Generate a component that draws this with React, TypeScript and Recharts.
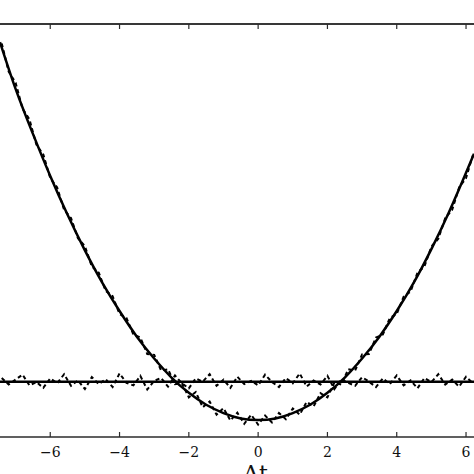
import { LineChart, Line, XAxis, YAxis, ReferenceLine } from 'recharts';

// time offset samples (x) for the measured curves
const X_MEASURED = [
  -7.4, -7.2, -7.0, -6.8, -6.6, -6.4, -6.2, -6.0, -5.8, -5.6,
  -5.4, -5.2, -5.0, -4.8, -4.6, -4.4, -4.2, -4.0, -3.8, -3.6,
  -3.4, -3.2, -3.0, -2.8, -2.6, -2.4, -2.2, -2.0, -1.8, -1.6,
  -1.4, -1.2, -1.0, -0.8, -0.6, -0.4, -0.2, 0.0, 0.2, 0.4,
  0.6, 0.8, 1.0, 1.2, 1.4, 1.6, 1.8, 2.0, 2.2, 2.4,
  2.6, 2.8, 3.0, 3.2, 3.4, 3.6, 3.8, 4.0, 4.2, 4.4,
  4.6, 4.8, 5.0, 5.2, 5.4, 5.6, 5.8, 6.0, 6.2,
];

const PARABOLA_MEASURED = [
  0.953, 0.885, 0.858, 0.795, 0.769, 0.708, 0.684, 0.627, 0.604, 0.550,
  0.530, 0.481, 0.462, 0.413, 0.398, 0.354, 0.341, 0.298, 0.288, 0.248,
  0.241, 0.201, 0.199, 0.161, 0.164, 0.128, 0.130, 0.096, 0.109, 0.072,
  0.086, 0.054, 0.070, 0.040, 0.059, 0.032, 0.054, 0.030, 0.052, 0.035,
  0.058, 0.043, 0.069, 0.054, 0.085, 0.074, 0.106, 0.096, 0.132, 0.127,
  0.164, 0.161, 0.200, 0.201, 0.241, 0.248, 0.288, 0.298, 0.340, 0.352,
  0.398, 0.413, 0.461, 0.480, 0.530, 0.550, 0.604, 0.627, 0.683,
];

const FLAT_MEASURED = [
  0.143, 0.127, 0.139, 0.151, 0.125, 0.133, 0.119, 0.142, 0.130, 0.152,
  0.124, 0.137, 0.116, 0.145, 0.128, 0.140, 0.121, 0.154, 0.131, 0.125,
  0.148, 0.115, 0.136, 0.143, 0.122, 0.149, 0.130, 0.118, 0.142, 0.134,
  0.152, 0.124, 0.139, 0.119, 0.146, 0.128, 0.136, 0.125, 0.151, 0.133,
  0.121, 0.143, 0.130, 0.154, 0.122, 0.137, 0.127, 0.148, 0.116, 0.140,
  0.131, 0.124, 0.145, 0.134, 0.121, 0.142, 0.128, 0.149, 0.125, 0.137,
  0.118, 0.143, 0.133, 0.152, 0.127, 0.139, 0.122, 0.146, 0.130,
];

// fitted curves (kept inside the visible x range)
const X_FIT = [
  -7.45, -7.0, -6.5, -6.0, -5.5, -5.0, -4.5, -4.0, -3.5, -3.0,
  -2.5, -2.0, -1.5, -1.0, -0.5, 0.0, 0.5, 1.0, 1.5, 2.0,
  2.5, 3.0, 3.5, 4.0, 4.5, 5.0, 5.5, 6.0, 6.23,
];
const PARABOLA_FIT = [
  0.956, 0.843, 0.734, 0.632, 0.538, 0.452, 0.374, 0.305, 0.243, 0.190,
  0.144, 0.107, 0.078, 0.058, 0.045, 0.041, 0.045, 0.058, 0.078, 0.107,
  0.144, 0.190, 0.243, 0.305, 0.375, 0.455, 0.543, 0.640, 0.686,
];
const FLAT_FIT = [0.134, 0.134];
const X_FLAT_FIT = [-7.45, 6.23];

const X_TICKS = [-6, -4, -2, 0, 2, 4, 6];
const X_DOMAIN = [-7.45, 6.23];
const Y_MAX = 1;

const measured = X_MEASURED.map((x, i) => ({ x, p: PARABOLA_MEASURED[i], f: FLAT_MEASURED[i] }));
const fit = X_FIT.map((x, i) => ({ x, p: PARABOLA_FIT[i] }));
const flatFit = X_FLAT_FIT.map((x, i) => ({ x, f: FLAT_FIT[i] }));

const AXIS_COLOR = '#2b2b2b';

function BottomTick({ x, y, payload }: any) {
  const v = payload.value as number;
  const label = v < 0 ? `\u2212${Math.abs(v)}` : `${v}`;
  return (
    <g>
      <line x1={x} y1={y} x2={x} y2={y - 5} stroke={AXIS_COLOR} strokeWidth={1.2} />
      <text
        x={x}
        y={y + 19.5}
        textAnchor="middle"
        fontFamily="DejaVu Serif"
        fontSize={14}
        fill="#111"
      >
        {label}
      </text>
    </g>
  );
}

// top frame ticks point down into the plot
function TopTick({ x, y }: any) {
  return <line x1={x} y1={y} x2={x} y2={y + 5} stroke={AXIS_COLOR} strokeWidth={1.2} />;
}

export default function App() {
  return (
    <div style={{ position: 'absolute', left: 0, top: 0, width: 474, height: 474, background: '#fff' }}>
      <LineChart width={474} height={474} margin={{ top: 4, right: 0, bottom: 0, left: 0 }}>
        <XAxis
          dataKey="x"
          type="number"
          domain={X_DOMAIN}
          ticks={X_TICKS}
          interval={0}
          height={37}
          tickSize={0}
          tickMargin={0}
          stroke={AXIS_COLOR}
          strokeWidth={1.5}
          tick={<BottomTick />}
          label={() => (
            <text x={243} y={481} fontFamily="DejaVu Serif" fontSize={22} fill="#111">
              Δt
            </text>
          )}
        />
        <XAxis
          xAxisId="top"
          orientation="top"
          dataKey="x"
          type="number"
          domain={X_DOMAIN}
          ticks={X_TICKS}
          interval={0}
          height={20}
          tickSize={0}
          tickMargin={0}
          stroke={AXIS_COLOR}
          strokeWidth={1.5}
          tick={<TopTick />}
        />
        <YAxis hide type="number" domain={[0, Y_MAX]} />
        <ReferenceLine y={Y_MAX} stroke={AXIS_COLOR} strokeWidth={1.5} ifOverflow="visible" />
        <Line
          data={measured}
          dataKey="f"
          type="linear"
          stroke="#000"
          strokeWidth={2}
          strokeDasharray="4 3"
          dot={false}
          isAnimationActive={false}
        />
        <Line
          data={measured}
          dataKey="p"
          type="linear"
          stroke="#000"
          strokeWidth={2}
          strokeDasharray="4 3"
          dot={false}
          isAnimationActive={false}
        />
        <Line
          data={flatFit}
          xAxisId="top"
          dataKey="f"
          type="linear"
          stroke="#000"
          strokeWidth={2.5}
          dot={false}
          isAnimationActive={false}
        />
        <Line
          data={fit}
          dataKey="p"
          type="natural"
          stroke="#000"
          strokeWidth={2.5}
          dot={false}
          isAnimationActive={false}
        />
      </LineChart>
    </div>
  );
}
